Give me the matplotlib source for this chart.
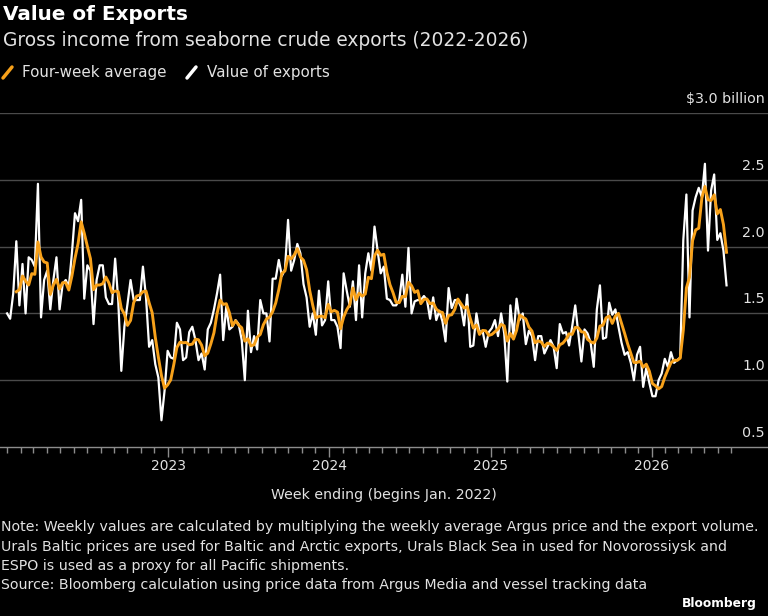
import matplotlib
matplotlib.use("Agg")
import pandas as pd
import matplotlib.pyplot as plt
import matplotlib.transforms as mtransforms
from matplotlib.lines import Line2D

# weekly value of exports, $ billion (first week of Jan 2022 onwards)
export_values = [
    1.50, 1.46, 1.65, 2.04, 1.56, 1.87, 1.50, 1.92, 1.90, 1.85,
    2.47, 1.47, 1.75, 1.82, 1.53, 1.75, 1.92, 1.53, 1.72, 1.75,
    1.70, 1.95, 2.25, 2.19, 2.35, 1.61, 1.86, 1.82, 1.42, 1.75,
    1.86, 1.86, 1.62, 1.57, 1.57, 1.91, 1.60, 1.07, 1.40, 1.57,
    1.75, 1.60, 1.60, 1.60, 1.85, 1.62, 1.25, 1.30, 1.12, 1.02,
    0.70, 0.92, 1.22, 1.17, 1.16, 1.43, 1.38, 1.15, 1.17, 1.36,
    1.40, 1.30, 1.15, 1.20, 1.08, 1.38, 1.43, 1.53, 1.65, 1.79,
    1.30, 1.55, 1.38, 1.40, 1.45, 1.42, 1.30, 1.00, 1.52, 1.21,
    1.33, 1.23, 1.60, 1.50, 1.50, 1.29, 1.76, 1.76, 1.90, 1.78,
    1.83, 2.20, 1.82, 1.90, 2.02, 1.95, 1.72, 1.62, 1.40, 1.50,
    1.34, 1.67, 1.41, 1.45, 1.74, 1.45, 1.45, 1.40, 1.24, 1.80,
    1.67, 1.55, 1.74, 1.45, 1.86, 1.47, 1.80, 1.95, 1.82, 2.15,
    1.97, 1.80, 1.85, 1.61, 1.60, 1.56, 1.56, 1.60, 1.79, 1.55,
    1.99, 1.50, 1.59, 1.60, 1.60, 1.63, 1.60, 1.46, 1.62, 1.45,
    1.52, 1.44, 1.29, 1.69, 1.54, 1.60, 1.60, 1.55, 1.41, 1.64,
    1.25, 1.26, 1.50, 1.36, 1.37, 1.25, 1.36, 1.39, 1.45, 1.33,
    1.50, 1.35, 0.99, 1.56, 1.33, 1.61, 1.45, 1.50, 1.27, 1.37,
    1.33, 1.15, 1.33, 1.33, 1.20, 1.25, 1.30, 1.25, 1.09, 1.42,
    1.35, 1.36, 1.26, 1.40, 1.56, 1.35, 1.14, 1.38, 1.35, 1.28,
    1.10, 1.53, 1.71, 1.31, 1.32, 1.58, 1.49, 1.53, 1.40, 1.28,
    1.19, 1.21, 1.13, 1.00, 1.19, 1.25, 0.95, 1.09, 0.98, 0.88,
    0.88, 1.00, 1.05, 1.16, 1.10, 1.21, 1.13, 1.15, 1.17, 2.05,
    2.39, 1.47, 2.27, 2.37, 2.44, 2.37, 2.62, 1.97, 2.42, 2.54,
    2.05, 2.10, 1.97, 1.71,
]
start_week = "2022-01-01"

ytick_values = [0.5, 1.0, 1.5, 2.0, 2.5, 3.0]
ytick_labels = ["0.5", "1.0", "1.5", "2.0", "2.5", "$3.0 billion"]
year_ticks = ["2023-01-01", "2024-01-01", "2025-01-01", "2026-01-01"]
year_labels = ["2023", "2024", "2025", "2026"]

title = "Value of Exports"
subtitle = "Gross income from seaborne crude exports (2022-2026)"
legend_labels = ["Four-week average", "Value of exports"]
xlabel = "Week ending (begins Jan. 2022)"
note_lines = [
    "Note: Weekly values are calculated by multiplying the weekly average Argus price and the export volume.",
    "Urals Baltic prices are used for Baltic and Arctic exports, Urals Black Sea in used for Novorossiysk and",
    "ESPO is used as a proxy for all Pacific shipments.",
    "Source: Bloomberg calculation using price data from Argus Media and vessel tracking data",
]

ORANGE = "#f7a11a"
GRID = "#4a4a4a"
TXT = "#e2e2e2"

dates = pd.date_range(start_week, periods=len(export_values), freq="7D")
four_week = pd.Series(export_values, index=dates).rolling(4).mean()

W, H = 768, 616
fig = plt.figure(figsize=(W / 100, H / 100), dpi=100, facecolor="black")


def fx(px):
    return px / W


def fy(py):
    return 1 - py / H


ax = fig.add_axes([0, fy(447), 1, (447 - 113) / H])
ax.set_facecolor("black")

for v in ytick_values[1:]:
    ax.axhline(v, color=GRID, lw=1, zorder=0)

ax.plot(dates, export_values, color="white", lw=1.6, zorder=2)
ax.plot(four_week.index, four_week.values, color=ORANGE, lw=2.1, zorder=3)

ax.set_ylim(0.5, 3.0)
ax.set_xlim(pd.Timestamp("2021-12-16"), pd.Timestamp("2026-09-22"))

for s in ["top", "left", "right"]:
    ax.spines[s].set_visible(False)
ax.spines["bottom"].set_color("#8c8c8c")
ax.spines["bottom"].set_linewidth(1)

ax.set_yticks([])
ax.set_xticks(pd.to_datetime(year_ticks))
ax.set_xticklabels(year_labels)
ax.set_xticks(pd.date_range("2022-01-01", "2026-07-01", freq="MS"), minor=True)
ax.tick_params(axis="x", which="major", length=7, width=1, color="#8c8c8c",
               labelcolor=TXT, labelsize=10, pad=2)
ax.tick_params(axis="x", which="minor", length=4, width=1, color="#8c8c8c")

# y labels sit above their gridlines on the right
ytrans = mtransforms.offset_copy(ax.get_yaxis_transform(), fig=fig, y=14, units="dots")
for v, lab in zip(ytick_values, ytick_labels):
    ax.text(0.996, v, lab, transform=ytrans, ha="right", va="center",
            color=TXT, fontsize=10.3)

fig.text(fx(3), fy(15), title, color="white", fontsize=14.4, fontweight="bold", va="center")
fig.text(fx(3), fy(41), subtitle, color=TXT, fontsize=13.4, va="center")

# legend
fig.add_artist(Line2D([fx(3), fx(12)], [fy(78), fy(67)], color=ORANGE, lw=2.5,
                      solid_capstyle="round"))
fig.text(fx(22), fy(72), legend_labels[0], color=TXT, fontsize=10.9, va="center")
fig.add_artist(Line2D([fx(187), fx(196)], [fy(78), fy(67)], color="white", lw=2.5,
                      solid_capstyle="round"))
fig.text(fx(207), fy(72), legend_labels[1], color=TXT, fontsize=10.9, va="center")

fig.text(fx(384), fy(495), xlabel, color=TXT, fontsize=10.2, ha="center", va="center")

for yy, line in zip([527, 547, 566, 585], note_lines):
    fig.text(fx(1), fy(yy), line, color=TXT, fontsize=10.2, va="center")

fig.text(fx(757), fy(604), "Bloomberg", color="white", fontsize=8.8, fontweight="bold",
         ha="right", va="center")

fig.savefig("out.png", dpi=100, facecolor="black")
